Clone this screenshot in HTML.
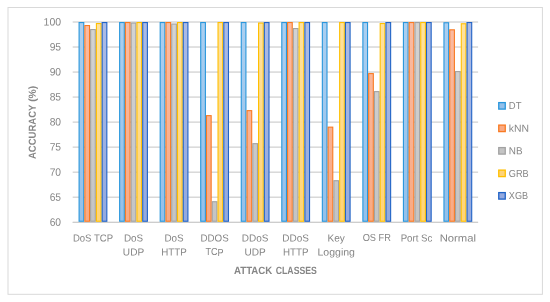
<!DOCTYPE html>
<html lang="en"><head><meta charset="utf-8"><title>Accuracy by attack class</title>
<style>html,body{margin:0;padding:0;background:#fff}body{width:550px;height:302px;overflow:hidden}svg{display:block}text{font-family:"Liberation Sans",Arial,sans-serif;fill:#868686}</style></head><body>
<svg width="550" height="302" viewBox="0 0 550 302">
<defs>
<linearGradient id="g0" gradientUnits="userSpaceOnUse" x1="0" y1="22.0" x2="0" y2="222.2"><stop offset="0" stop-color="#abcff0"/><stop offset="1" stop-color="#93c0ea"/></linearGradient>
<linearGradient id="g1" gradientUnits="userSpaceOnUse" x1="0" y1="22.0" x2="0" y2="222.2"><stop offset="0" stop-color="#fbbba2"/><stop offset="1" stop-color="#f9aa84"/></linearGradient>
<linearGradient id="g2" gradientUnits="userSpaceOnUse" x1="0" y1="22.0" x2="0" y2="222.2"><stop offset="0" stop-color="#d3d3d3"/><stop offset="1" stop-color="#c4c4c4"/></linearGradient>
<linearGradient id="g3" gradientUnits="userSpaceOnUse" x1="0" y1="22.0" x2="0" y2="222.2"><stop offset="0" stop-color="#ffe29e"/><stop offset="1" stop-color="#ffd478"/></linearGradient>
<linearGradient id="g4" gradientUnits="userSpaceOnUse" x1="0" y1="22.0" x2="0" y2="222.2"><stop offset="0" stop-color="#abbbe6"/><stop offset="1" stop-color="#93a9df"/></linearGradient>
</defs>
<rect width="550" height="302" fill="#fff"/>
<rect x="8" y="7.5" width="534.4" height="286.8" fill="#fff" stroke="#d9d9d9" stroke-width="1"/>
<line x1="72.7" y1="22.00" x2="478.1" y2="22.00" stroke="#c4c4c4" stroke-width="1"/>
<line x1="72.7" y1="47.02" x2="478.1" y2="47.02" stroke="#c4c4c4" stroke-width="1"/>
<line x1="72.7" y1="72.05" x2="478.1" y2="72.05" stroke="#c4c4c4" stroke-width="1"/>
<line x1="72.7" y1="97.07" x2="478.1" y2="97.07" stroke="#c4c4c4" stroke-width="1"/>
<line x1="72.7" y1="122.10" x2="478.1" y2="122.10" stroke="#c4c4c4" stroke-width="1"/>
<line x1="72.7" y1="147.12" x2="478.1" y2="147.12" stroke="#c4c4c4" stroke-width="1"/>
<line x1="72.7" y1="172.15" x2="478.1" y2="172.15" stroke="#c4c4c4" stroke-width="1"/>
<line x1="72.7" y1="197.17" x2="478.1" y2="197.17" stroke="#c4c4c4" stroke-width="1"/>
<line x1="72.7" y1="222.20" x2="478.1" y2="222.20" stroke="#c4c4c4" stroke-width="1"/>
<text x="61.1" y="25.50" transform="rotate(0.03 61.1 25.50)" font-size="10.7" text-anchor="end" textLength="17.53" lengthAdjust="spacingAndGlyphs">100</text>
<text x="61.1" y="50.52" transform="rotate(0.03 61.1 50.52)" font-size="10.7" text-anchor="end" textLength="11.46" lengthAdjust="spacingAndGlyphs">95</text>
<text x="61.1" y="75.55" transform="rotate(0.03 61.1 75.55)" font-size="10.7" text-anchor="end" textLength="11.46" lengthAdjust="spacingAndGlyphs">90</text>
<text x="61.1" y="100.57" transform="rotate(0.03 61.1 100.57)" font-size="10.7" text-anchor="end" textLength="11.46" lengthAdjust="spacingAndGlyphs">85</text>
<text x="61.1" y="125.60" transform="rotate(0.03 61.1 125.60)" font-size="10.7" text-anchor="end" textLength="11.46" lengthAdjust="spacingAndGlyphs">80</text>
<text x="61.1" y="150.62" transform="rotate(0.03 61.1 150.62)" font-size="10.7" text-anchor="end" textLength="11.46" lengthAdjust="spacingAndGlyphs">75</text>
<text x="61.1" y="175.65" transform="rotate(0.03 61.1 175.65)" font-size="10.7" text-anchor="end" textLength="11.46" lengthAdjust="spacingAndGlyphs">70</text>
<text x="61.1" y="200.67" transform="rotate(0.03 61.1 200.67)" font-size="10.7" text-anchor="end" textLength="11.46" lengthAdjust="spacingAndGlyphs">65</text>
<text x="61.1" y="225.70" transform="rotate(0.03 61.1 225.70)" font-size="10.7" text-anchor="end" textLength="11.46" lengthAdjust="spacingAndGlyphs">60</text>
<rect x="79.09" y="22.55" width="4.67" height="198.70" fill="url(#g0)" stroke="#2896dc" stroke-width="1.1"/>
<rect x="84.86" y="25.55" width="4.67" height="195.70" fill="url(#g1)" stroke="#f97a22" stroke-width="1.1"/>
<rect x="90.64" y="29.56" width="4.67" height="191.69" fill="url(#g2)" stroke="#a2a2a2" stroke-width="1.1"/>
<rect x="96.41" y="23.55" width="4.67" height="197.70" fill="url(#g3)" stroke="#ffbf00" stroke-width="1.1"/>
<rect x="102.17" y="22.55" width="4.67" height="198.70" fill="url(#g4)" stroke="#2063c6" stroke-width="1.1"/>
<rect x="119.64" y="22.55" width="4.67" height="198.70" fill="url(#g0)" stroke="#2896dc" stroke-width="1.1"/>
<rect x="125.41" y="22.55" width="4.67" height="198.70" fill="url(#g1)" stroke="#f97a22" stroke-width="1.1"/>
<rect x="131.18" y="23.05" width="4.67" height="198.20" fill="url(#g2)" stroke="#a2a2a2" stroke-width="1.1"/>
<rect x="136.95" y="22.55" width="4.67" height="198.70" fill="url(#g3)" stroke="#ffbf00" stroke-width="1.1"/>
<rect x="142.72" y="22.55" width="4.67" height="198.70" fill="url(#g4)" stroke="#2063c6" stroke-width="1.1"/>
<rect x="160.18" y="22.55" width="4.67" height="198.70" fill="url(#g0)" stroke="#2896dc" stroke-width="1.1"/>
<rect x="165.95" y="22.55" width="4.67" height="198.70" fill="url(#g1)" stroke="#f97a22" stroke-width="1.1"/>
<rect x="171.72" y="24.05" width="4.67" height="197.20" fill="url(#g2)" stroke="#a2a2a2" stroke-width="1.1"/>
<rect x="177.49" y="22.55" width="4.67" height="198.70" fill="url(#g3)" stroke="#ffbf00" stroke-width="1.1"/>
<rect x="183.26" y="22.55" width="4.67" height="198.70" fill="url(#g4)" stroke="#2063c6" stroke-width="1.1"/>
<rect x="200.72" y="22.55" width="4.67" height="198.70" fill="url(#g0)" stroke="#2896dc" stroke-width="1.1"/>
<rect x="206.49" y="115.64" width="4.67" height="105.61" fill="url(#g1)" stroke="#f97a22" stroke-width="1.1"/>
<rect x="212.26" y="201.73" width="4.67" height="19.52" fill="url(#g2)" stroke="#a2a2a2" stroke-width="1.1"/>
<rect x="218.03" y="22.55" width="4.67" height="198.70" fill="url(#g3)" stroke="#ffbf00" stroke-width="1.1"/>
<rect x="223.80" y="22.55" width="4.67" height="198.70" fill="url(#g4)" stroke="#2063c6" stroke-width="1.1"/>
<rect x="241.26" y="22.55" width="4.67" height="198.70" fill="url(#g0)" stroke="#2896dc" stroke-width="1.1"/>
<rect x="247.03" y="110.64" width="4.67" height="110.61" fill="url(#g1)" stroke="#f97a22" stroke-width="1.1"/>
<rect x="252.80" y="143.67" width="4.67" height="77.58" fill="url(#g2)" stroke="#a2a2a2" stroke-width="1.1"/>
<rect x="258.56" y="23.05" width="4.67" height="198.20" fill="url(#g3)" stroke="#ffbf00" stroke-width="1.1"/>
<rect x="264.34" y="22.55" width="4.67" height="198.70" fill="url(#g4)" stroke="#2063c6" stroke-width="1.1"/>
<rect x="281.80" y="22.55" width="4.67" height="198.70" fill="url(#g0)" stroke="#2896dc" stroke-width="1.1"/>
<rect x="287.57" y="22.55" width="4.67" height="198.70" fill="url(#g1)" stroke="#f97a22" stroke-width="1.1"/>
<rect x="293.34" y="28.56" width="4.67" height="192.69" fill="url(#g2)" stroke="#a2a2a2" stroke-width="1.1"/>
<rect x="299.11" y="22.55" width="4.67" height="198.70" fill="url(#g3)" stroke="#ffbf00" stroke-width="1.1"/>
<rect x="304.88" y="22.55" width="4.67" height="198.70" fill="url(#g4)" stroke="#2063c6" stroke-width="1.1"/>
<rect x="322.34" y="22.55" width="4.67" height="198.70" fill="url(#g0)" stroke="#2896dc" stroke-width="1.1"/>
<rect x="328.11" y="127.15" width="4.67" height="94.10" fill="url(#g1)" stroke="#f97a22" stroke-width="1.1"/>
<rect x="333.88" y="180.71" width="4.67" height="40.54" fill="url(#g2)" stroke="#a2a2a2" stroke-width="1.1"/>
<rect x="339.65" y="22.55" width="4.67" height="198.70" fill="url(#g3)" stroke="#ffbf00" stroke-width="1.1"/>
<rect x="345.42" y="22.55" width="4.67" height="198.70" fill="url(#g4)" stroke="#2063c6" stroke-width="1.1"/>
<rect x="362.88" y="22.55" width="4.67" height="198.70" fill="url(#g0)" stroke="#2896dc" stroke-width="1.1"/>
<rect x="368.65" y="73.60" width="4.67" height="147.65" fill="url(#g1)" stroke="#f97a22" stroke-width="1.1"/>
<rect x="374.42" y="91.62" width="4.67" height="129.63" fill="url(#g2)" stroke="#a2a2a2" stroke-width="1.1"/>
<rect x="380.19" y="23.55" width="4.67" height="197.70" fill="url(#g3)" stroke="#ffbf00" stroke-width="1.1"/>
<rect x="385.96" y="22.55" width="4.67" height="198.70" fill="url(#g4)" stroke="#2063c6" stroke-width="1.1"/>
<rect x="403.42" y="22.55" width="4.67" height="198.70" fill="url(#g0)" stroke="#2896dc" stroke-width="1.1"/>
<rect x="409.19" y="22.55" width="4.67" height="198.70" fill="url(#g1)" stroke="#f97a22" stroke-width="1.1"/>
<rect x="414.96" y="22.55" width="4.67" height="198.70" fill="url(#g2)" stroke="#a2a2a2" stroke-width="1.1"/>
<rect x="420.73" y="22.55" width="4.67" height="198.70" fill="url(#g3)" stroke="#ffbf00" stroke-width="1.1"/>
<rect x="426.50" y="22.55" width="4.67" height="198.70" fill="url(#g4)" stroke="#2063c6" stroke-width="1.1"/>
<rect x="443.96" y="22.75" width="4.67" height="198.50" fill="url(#g0)" stroke="#2896dc" stroke-width="1.1"/>
<rect x="449.73" y="29.81" width="4.67" height="191.44" fill="url(#g1)" stroke="#f97a22" stroke-width="1.1"/>
<rect x="455.50" y="71.60" width="4.67" height="149.65" fill="url(#g2)" stroke="#a2a2a2" stroke-width="1.1"/>
<rect x="461.27" y="23.75" width="4.67" height="197.50" fill="url(#g3)" stroke="#ffbf00" stroke-width="1.1"/>
<rect x="467.04" y="22.55" width="4.67" height="198.70" fill="url(#g4)" stroke="#2063c6" stroke-width="1.1"/>
<line x1="72.7" y1="222.50" x2="478.1" y2="222.50" stroke="#cccccc" stroke-width="0.9"/>
<text x="92.97" y="241.40" transform="rotate(0.03 92.97 241.40)" font-size="10.2" text-anchor="middle" textLength="40.16" lengthAdjust="spacingAndGlyphs">DoS TCP</text>
<text x="133.51" y="241.40" transform="rotate(0.03 133.51 241.40)" font-size="10.2" text-anchor="middle" textLength="19.23" lengthAdjust="spacingAndGlyphs">DoS</text>
<text x="133.51" y="255.50" transform="rotate(0.03 133.51 255.50)" font-size="10.2" text-anchor="middle" textLength="21.30" lengthAdjust="spacingAndGlyphs">UDP</text>
<text x="174.05" y="241.40" transform="rotate(0.03 174.05 241.40)" font-size="10.2" text-anchor="middle" textLength="19.23" lengthAdjust="spacingAndGlyphs">DoS</text>
<text x="174.05" y="255.50" transform="rotate(0.03 174.05 255.50)" font-size="10.2" text-anchor="middle" textLength="25.55" lengthAdjust="spacingAndGlyphs">HTTP</text>
<text x="214.59" y="241.40" transform="rotate(0.03 214.59 241.40)" font-size="10.2" text-anchor="middle" textLength="28.25" lengthAdjust="spacingAndGlyphs">DDOS</text>
<text x="214.59" y="255.50" transform="rotate(0.03 214.59 255.50)" font-size="10.2" text-anchor="middle" textLength="18.20" lengthAdjust="spacingAndGlyphs">TCP</text>
<text x="255.13" y="241.40" transform="rotate(0.03 255.13 241.40)" font-size="10.2" text-anchor="middle" textLength="26.62" lengthAdjust="spacingAndGlyphs">DDoS</text>
<text x="255.13" y="255.50" transform="rotate(0.03 255.13 255.50)" font-size="10.2" text-anchor="middle" textLength="21.30" lengthAdjust="spacingAndGlyphs">UDP</text>
<text x="295.67" y="241.40" transform="rotate(0.03 295.67 241.40)" font-size="10.2" text-anchor="middle" textLength="26.62" lengthAdjust="spacingAndGlyphs">DDoS</text>
<text x="295.67" y="255.50" transform="rotate(0.03 295.67 255.50)" font-size="10.2" text-anchor="middle" textLength="25.55" lengthAdjust="spacingAndGlyphs">HTTP</text>
<text x="336.21" y="241.40" transform="rotate(0.03 336.21 241.40)" font-size="10.2" text-anchor="middle" textLength="17.34" lengthAdjust="spacingAndGlyphs">Key</text>
<text x="336.21" y="255.50" transform="rotate(0.03 336.21 255.50)" font-size="10.2" text-anchor="middle" textLength="37.52" lengthAdjust="spacingAndGlyphs">Logging</text>
<text x="376.75" y="241.40" transform="rotate(0.03 376.75 241.40)" font-size="10.2" text-anchor="middle" textLength="28.22" lengthAdjust="spacingAndGlyphs">OS FR</text>
<text x="416.49" y="241.40" transform="rotate(0.03 416.49 241.40)" font-size="10.2" text-anchor="middle" textLength="31.71" lengthAdjust="spacingAndGlyphs">Port Sc</text>
<text x="457.83" y="241.40" transform="rotate(0.03 457.83 241.40)" font-size="10.2" text-anchor="middle" textLength="36.36" lengthAdjust="spacingAndGlyphs">Normal</text>
<text x="234.0" y="274.4" transform="rotate(0.03 234.0 274.4)" font-size="10.5" font-weight="bold" fill="#8e8e8e" textLength="38.3" lengthAdjust="spacingAndGlyphs">ATTACK</text>
<text x="275.8" y="274.4" transform="rotate(0.03 275.8 274.4)" font-size="10.5" font-weight="bold" fill="#8e8e8e" textLength="41.0" lengthAdjust="spacingAndGlyphs">CLASSES</text>
<text transform="translate(35.72 159.0) rotate(-89.97)" font-size="10.2" font-weight="bold" fill="#8e8e8e" textLength="54.4" lengthAdjust="spacingAndGlyphs">ACCURACY</text>
<text transform="translate(35.72 101.85) rotate(-89.97)" font-size="10.2" font-weight="bold" fill="#8e8e8e" textLength="16.0" lengthAdjust="spacingAndGlyphs">(%)</text>
<rect x="498.75" y="102.60" width="6.50" height="6.50" fill="#93c0ea" stroke="#2896dc" stroke-width="1.3"/>
<text x="508.8" y="109.19" transform="rotate(0.03 508.8 109.19)" font-size="10.2" textLength="12.63" lengthAdjust="spacingAndGlyphs">DT</text>
<rect x="498.75" y="125.10" width="6.50" height="6.50" fill="#f9aa84" stroke="#f97a22" stroke-width="1.3"/>
<text x="508.8" y="131.69" transform="rotate(0.03 508.8 131.69)" font-size="10.2" textLength="20.22" lengthAdjust="spacingAndGlyphs">kNN</text>
<rect x="498.75" y="147.60" width="6.50" height="6.50" fill="#c4c4c4" stroke="#a2a2a2" stroke-width="1.3"/>
<text x="508.8" y="154.19" transform="rotate(0.03 508.8 154.19)" font-size="10.2" textLength="13.78" lengthAdjust="spacingAndGlyphs">NB</text>
<rect x="498.75" y="170.10" width="6.50" height="6.50" fill="#ffd478" stroke="#ffbf00" stroke-width="1.3"/>
<text x="508.8" y="176.69" transform="rotate(0.03 508.8 176.69)" font-size="10.2" textLength="19.90" lengthAdjust="spacingAndGlyphs">GRB</text>
<rect x="498.75" y="192.60" width="6.50" height="6.50" fill="#93a9df" stroke="#2063c6" stroke-width="1.3"/>
<text x="508.8" y="199.19" transform="rotate(0.03 508.8 199.19)" font-size="10.2" textLength="19.27" lengthAdjust="spacingAndGlyphs">XGB</text>
</svg></body></html>
